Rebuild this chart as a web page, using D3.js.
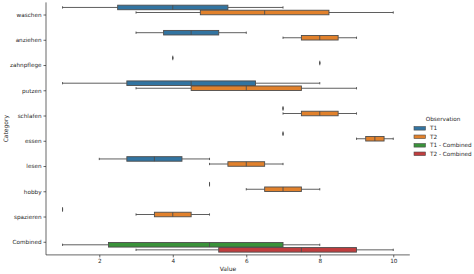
<!DOCTYPE html>
<html>
<head>
<meta charset="utf-8">
<script src="https://cdn.jsdelivr.net/npm/d3@7"></script>
<style>
  body { margin: 0; background: #fff; }
  text { font-family: "DejaVu Sans", sans-serif; fill: #262626; }
</style>
</head>
<body>
<script>
const categories = ['waschen', 'anziehen', 'zahnpflege', 'putzen', 'schlafen', 'essen', 'lesen', 'hobby', 'spazieren', 'Combined']
const series = ['T1', 'T2', 'T1 - Combined', 'T2 - Combined']
const colors = ['#3274a1', '#e1812c', '#3a923a', '#c03d3e']
const x_ticks = [2, 4, 6, 8, 10]

// five number summaries: [min, q1, median, q3, max]
const t1_stats = [
  [1, 2.5, 4, 5.5, 7],
  [3, 3.75, 4.5, 5.25, 6],
  [4, 4, 4, 4, 4],
  [1, 2.75, 4.5, 6.25, 8],
  [7, 7, 7, 7, 7],
  [7, 7, 7, 7, 7],
  [2, 2.75, 3.5, 4.25, 5],
  [5, 5, 5, 5, 5],
  [1, 1, 1, 1, 1],
  null
]
const t2_stats = [
  [3, 4.75, 6.5, 8.25, 10],
  [7, 7.5, 8, 8.5, 9],
  [8, 8, 8, 8, 8],
  [3, 4.5, 6, 7.5, 9],
  [7, 7.5, 8, 8.5, 9],
  [9, 9.25, 9.5, 9.75, 10],
  [5, 5.5, 6, 6.5, 7],
  [6, 6.5, 7, 7.5, 8],
  [3, 3.5, 4, 4.5, 5],
  null
]
const t1_combined_stats = [null, null, null, null, null, null, null, null, null, [1, 2.25, 5, 7, 8]]
const t2_combined_stats = [null, null, null, null, null, null, null, null, null, [3, 5.25, 7.5, 9, 10]]

const all_stats = [t1_stats, t2_stats, t1_combined_stats, t2_combined_stats]

const margin = { left: 46, top: 2.4, right: 409.8, bottom: 254.9 }

const svg = d3.select('body')
  .append('svg')
  .attr('width', 474)
  .attr('height', 274)

const x = d3.scaleLinear().domain([0.55, 10.45]).range([margin.left, margin.right])
const y = d3.scaleBand().domain(categories).range([margin.top, margin.bottom])
const dodge = d3.scaleBand().domain(series).range([y.bandwidth() * 0.1, y.bandwidth() * 0.9])

const boxes = []
all_stats.forEach((arr, s) => {
  arr.forEach((st, c) => {
    if (st) boxes.push({ cat: categories[c], ser: series[s], color: colors[s], st: st })
  })
})

const box_h = dodge.bandwidth() - 0.5
const cap_h = box_h * 0.5
const line_col = '#4d4d4d'

const g = svg.selectAll('g.box')
  .data(boxes)
  .enter()
  .append('g')
  .attr('class', 'box')
  .attr('transform', (d) => { return 'translate(0,' + (y(d.cat) + dodge(d.ser) + dodge.bandwidth() / 2) + ')'; })

// whiskers
g.append('line').attr('x1', (d) => x(d.st[0])).attr('x2', (d) => x(d.st[1]))
  .attr('stroke', line_col).attr('stroke-width', 0.9)
g.append('line').attr('x1', (d) => x(d.st[3])).attr('x2', (d) => x(d.st[4]))
  .attr('stroke', line_col).attr('stroke-width', 0.9)
// caps
g.append('line').attr('x1', (d) => x(d.st[0])).attr('x2', (d) => x(d.st[0]))
  .attr('y1', -cap_h / 2).attr('y2', cap_h / 2)
  .attr('stroke', line_col).attr('stroke-width', 0.9)
g.append('line').attr('x1', (d) => x(d.st[4])).attr('x2', (d) => x(d.st[4]))
  .attr('y1', -cap_h / 2).attr('y2', cap_h / 2)
  .attr('stroke', line_col).attr('stroke-width', 0.9)
// box
g.append('rect')
  .attr('x', (d) => x(d.st[1]))
  .attr('width', (d) => x(d.st[3]) - x(d.st[1]))
  .attr('y', -box_h / 2)
  .attr('height', box_h)
  .attr('fill', (d) => d.color)
  .attr('stroke', line_col)
  .attr('stroke-width', 0.9)
// median
g.append('line').attr('x1', (d) => x(d.st[2])).attr('x2', (d) => x(d.st[2]))
  .attr('y1', -box_h / 2).attr('y2', box_h / 2)
  .attr('stroke', line_col).attr('stroke-width', 0.9)

// axes
const xAxis = svg.append('g')
  .attr('transform', 'translate(0,' + margin.bottom + ')')
  .call(d3.axisBottom(x).tickValues(x_ticks).tickSize(2.5).tickPadding(2))
const yAxis = svg.append('g')
  .attr('transform', 'translate(' + margin.left + ',0)')
  .call(d3.axisLeft(y).tickSize(2.5).tickPadding(2))

;[xAxis, yAxis].forEach((a) => {
  a.selectAll('text').attr('font-size', '5.7px').attr('font-family', '"DejaVu Sans", sans-serif').attr('fill', '#262626')
  a.selectAll('line').attr('stroke', '#262626').attr('stroke-width', 0.7)
  a.select('.domain').attr('stroke', '#262626').attr('stroke-width', 0.7)
})
xAxis.select('.domain').attr('d', 'M' + margin.left + ',0H' + margin.right)
yAxis.select('.domain').attr('d', 'M0,' + margin.top + 'V' + margin.bottom)

svg.append('text')
  .attr('x', (margin.left + margin.right) / 2)
  .attr('y', 271)
  .attr('text-anchor', 'middle')
  .attr('font-size', '6px')
  .text('Value')

svg.append('text')
  .attr('transform', 'translate(8,' + (margin.top + margin.bottom) / 2 + ') rotate(-90)')
  .attr('text-anchor', 'middle')
  .attr('font-size', '6px')
  .text('Category')

// legend
const legend = svg.append('g').attr('transform', 'translate(414,0)')
legend.append('text')
  .attr('x', 29)
  .attr('y', 121)
  .attr('text-anchor', 'middle')
  .attr('font-size', '5.7px')
  .text('Observation')

const items = legend.selectAll('g.item')
  .data(series)
  .enter()
  .append('g')
  .attr('class', 'item')
  .attr('transform', (d, i) => { return 'translate(0,' + (128.3 + i * 8.5) + ')'; })
items.append('rect')
  .attr('x', 0).attr('y', -1.8).attr('width', 11.5).attr('height', 3.6)
  .attr('fill', (d, i) => colors[i])
  .attr('stroke', line_col).attr('stroke-width', 0.6)
items.append('text')
  .attr('x', 16)
  .attr('y', 2)
  .attr('font-size', '5.7px')
  .text((d) => d)
</script>
</body>
</html>
